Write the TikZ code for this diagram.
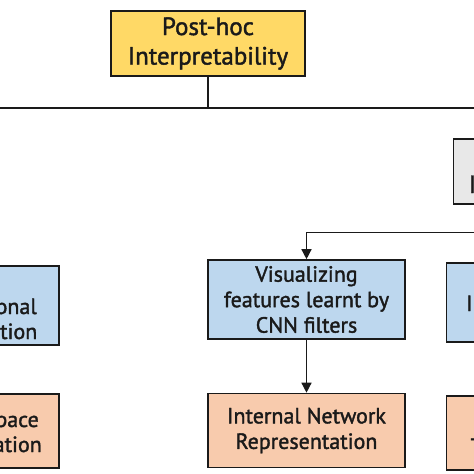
\documentclass[tikz,border=0pt]{standalone}
\usepackage{fontspec}
\setmainfont{PT Sans}[RawFeature={embolden=1.6}]
\usetikzlibrary{arrows.meta}
\definecolor{hocyellow}{HTML}{FFD966}
\definecolor{featblue}{HTML}{BDD7EE}
\definecolor{reppeach}{HTML}{F8CBAD}
\definecolor{catgray}{HTML}{E8E8E8}
\definecolor{inkline}{HTML}{1A1A1A}
\begin{document}
\begin{tikzpicture}[x=1pt,y=-1pt]

    \tikzset{
      box/.style={
        draw=inkline,
        line width=1.6pt,
        align=center,
        inner sep=0pt,
        text=inkline,
      },
      headfont/.style={font=\fontsize{25}{29.5}\selectfont},
      bodyfont/.style={font=\fontsize{22}{25.5}\selectfont},
      headbox/.style={box, headfont, fill=hocyellow, minimum width=194pt, minimum height=65pt},
      catbox/.style={box, fill=catgray, minimum width=194pt, minimum height=65pt},
      methbox/.style={box, bodyfont, fill=featblue, minimum width=197pt, minimum height=79pt},
      repbox/.style={box, bodyfont, fill=reppeach, minimum width=197pt, minimum height=74pt},
      frag/.style={inner sep=0pt, text=inkline},
      link/.style={draw=inkline, line width=1.4pt},
      tri/.style={-{Triangle[width=10pt,length=10pt]}},
    }
    \useasboundingbox (0,0) rectangle (474,474);
    \clip (0,0) rectangle (474,474);

	% top of the tree
	\node[headbox] (posthoc) at (208,43.5) {Post-hoc\\Interpretability};
	\node[catbox, anchor=north west] (catR) at (452.5,138) {};
	\node[frag, headfont, anchor=base west] (catRtxt) at (468.5,193) {I};

	% methods row
	\node[methbox, anchor=north east] (methL) at (60,265) {};
	\node[methbox] (visual) at (306.5,299.5) {Visualizing\\features learnt by\\CNN filters};
	\node[methbox, anchor=north west] (methR) at (445.7,262) {};

	% representations row
	\node[repbox, anchor=north east] (repL) at (60,393) {};
	\node[repbox] (internal) at (306.5,430.5) {Internal Network\\Representation};
	\node[repbox, anchor=north west] (repR) at (445.7,395) {};

	% cut text at the edges
	\node[frag, bodyfont, anchor=base east] (methLa) at (37,314) {onal};
	\node[frag, bodyfont, anchor=base east] (methLb) at (37.5,339) {ation};
	\node[frag, bodyfont, anchor=base east] (repLa) at (39,427) {pace};
	\node[frag, bodyfont, anchor=base east] (repLb) at (42,452) {ation};
	\node[frag, bodyfont, anchor=base west] (methRa) at (466,311) {In};
	\node[frag, bodyfont, anchor=base west] (repRa) at (470.5,454) {T};

	% connectors
	\coordinate (busW) at (-5,108);
	\coordinate (busE) at (480,108);
	\coordinate (busE2) at (480,232.5);
	\draw[link] (busW) -- (busE);
	\draw[link] (posthoc.south) -- (posthoc.south |- busW);
	\draw[link,tri] (busE2) -| (visual.north);
	\draw[link,tri] (visual.south) -- (internal.north);

\end{tikzpicture}
\end{document}
